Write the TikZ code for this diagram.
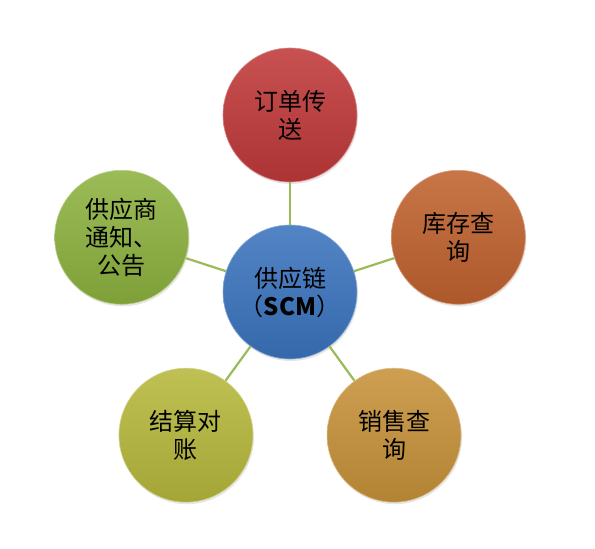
\documentclass[tikz,border=0pt]{standalone}
\usepackage{fontspec}
\newfontfamily\cjk{Noto Sans CJK SC}
\usepackage{tikz}
\usetikzlibrary{calc,shadows}
\definecolor{scmblue}{HTML}{3B74BE}
\definecolor{orderred}{HTML}{C0393A}
\definecolor{stockorange}{HTML}{C0622F}
\definecolor{salesgold}{HTML}{C7923A}
\definecolor{billolive}{HTML}{B6B83C}
\definecolor{suppliergreen}{HTML}{8DB23F}
\definecolor{spokegreen}{HTML}{9BBB59}
\newcommand{\ballsize}{134pt}
\newcommand{\spoke}{177}
\tikzset{
	ball/.style={circle, minimum size=\ballsize, inner sep=0pt, align=center,
		top color=#1!88!white, bottom color=#1!90!black, draw=#1!60!white, line width=0.6pt,
		drop shadow={shadow xshift=1pt, shadow yshift=-2pt, opacity=0.2},
		font=\cjk\fontsize{24}{28}\selectfont},
	spokeline/.style={draw=spokegreen, line width=2.2pt}
}

\begin{document}
\begin{tikzpicture}[x=1pt,y=1pt]
	\useasboundingbox (0,0) rectangle (595,549);
	\coordinate (O) at (290,257);

	\node[ball=scmblue] (scm) at (O) {供应链\\（{\bfseries SCM}）};
	\node[ball=orderred] (order) at ($(O)+(90:\spoke)$) {订单传\\送};
	\node[ball=stockorange] (stock) at ($(O)+(18:\spoke)$) {库存查\\询};
	\node[ball=salesgold] (sales) at ($(O)+(-54:\spoke)$) {销售查\\询};
	\node[ball=billolive] (bill) at ($(O)+(234:\spoke)$) {结算对\\账};
	\node[ball=suppliergreen] (supplier) at ($(O)+(162:\spoke)$) {供应商\\通知、\\公告};

	\draw[spokeline] (scm) -- (order);
	\draw[spokeline] (scm) -- (stock);
	\draw[spokeline] (scm) -- (sales);
	\draw[spokeline] (scm) -- (bill);
	\draw[spokeline] (scm) -- (supplier);

\end{tikzpicture}
\end{document}
